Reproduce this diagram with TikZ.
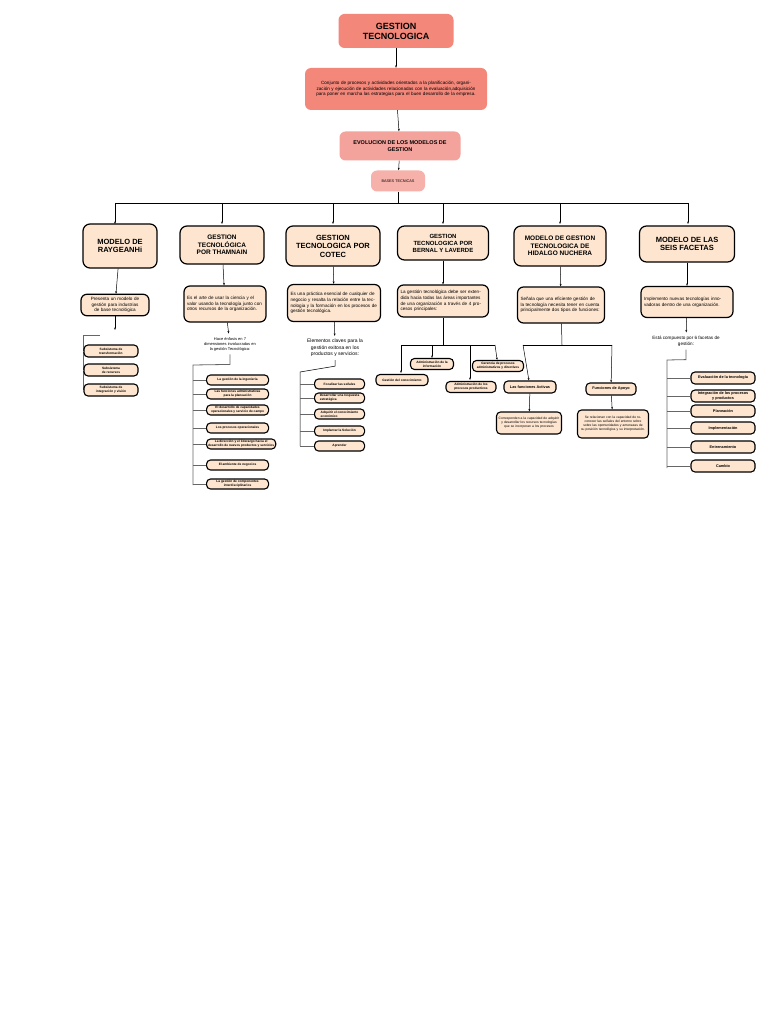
\documentclass[tikz,border=0pt]{standalone}
\usepackage{fontspec}
\setmainfont{Liberation Sans}
\usetikzlibrary{arrows.meta}
\definecolor{salmon}{HTML}{F2877A}
\definecolor{lsalmon}{HTML}{F4A39C}
\definecolor{peach}{HTML}{FDE5CF}
\tikzset{
 top/.style={fill=salmon,rounded corners=6pt,align=center,inner sep=2pt},
 model/.style={fill=peach,draw=black,line width=1.2pt,rounded corners=7pt,align=center,font=\fontsize{7.5}{8.5}\selectfont\bfseries,inner sep=2pt},
 desc/.style={fill=peach,draw=black,line width=1.2pt,rounded corners=6pt,align=left,font=\fontsize{4.6}{5.6}\selectfont,inner sep=3pt},
 sub/.style={fill=peach,draw=black,line width=1.1pt,rounded corners=4pt,align=center,font=\fontsize{3.2}{3.8}\selectfont\bfseries,inner sep=1.5pt},
 plain/.style={align=center,font=\fontsize{4.6}{5.8}\selectfont},
 ln/.style={line width=0.5pt},
 ar/.style={line width=0.5pt,-{Stealth[length=2.5pt]}},
 br/.style={line width=0.8pt,gray!80!black},
}
\begin{document}
\begin{tikzpicture}[x=1pt,y=-1pt]
\useasboundingbox[fill=white] (0,0) rectangle (768,1024);
% top
\node[top,minimum width=115,minimum height=34,font=\fontsize{9}{10}\selectfont\bfseries] (gt) at (396,31) {GESTION\\TECNOLOGICA};
\node[top,minimum width=182,minimum height=42,text width=176,font=\fontsize{4.6}{5.6}\selectfont] (def) at (396,89) {Conjunto de procesos y actividades orientados a la planificación, organización y ejecución de actividades relacionadas con la evaluación,adquisición para poner en marcha las estrategias para el buen desarrollo de la empresa.};
\node[top,fill=lsalmon,minimum width=121,minimum height=29,font=\fontsize{5.5}{6.5}\selectfont\bfseries] (evo) at (400,146) {EVOLUCION DE LOS MODELOS DE\\GESTION};
\node[top,fill=lsalmon!85!white,minimum width=54,minimum height=21,font=\fontsize{3.8}{4.5}\selectfont] (bt) at (398,181) {BASES TECNICAS};
\draw[ar] (gt) -- (def);
\draw[ar] (def) -- (evo);
\draw[ar] (evo) -- (bt);
% models
\node[model,minimum width=74,minimum height=44] (m1) at (120,246) {MODELO DE\\RAYGEANHi};
\node[model,minimum width=84,minimum height=38,font=\fontsize{6.5}{7.5}\selectfont\bfseries] (m2) at (222,245) {GESTION\\TECNOLÓGICA\\POR THAMNAIN};
\node[model,minimum width=94,minimum height=40] (m3) at (333,246) {GESTION\\TECNOLOGICA POR\\COTEC};
\node[model,minimum width=91,minimum height=34,font=\fontsize{6}{7}\selectfont\bfseries] (m4) at (443,243) {GESTION\\TECNOLOGICA POR\\BERNAL Y LAVERDE};
\node[model,minimum width=92,minimum height=40,font=\fontsize{6.5}{7.5}\selectfont\bfseries] (m5) at (560,246) {MODELO DE GESTION\\TECNOLOGICA DE\\HIDALGO NUCHERA};
\node[model,minimum width=95,minimum height=36] (m6) at (687,244) {MODELO DE LAS\\SEIS FACETAS};
\coordinate (h) at (398,203);
\draw[ln] (bt) -- (h);
\draw[ln] (115,203) -- (688,203);
\foreach \m/\x in {m1/115,m2/222,m3/333,m4/443,m5/560,m6/688}{\draw[ar] (\x,203) -- (\x,224);}
% descriptions
\node[desc,text width=62,align=center] (d1) at (115,305) {Presenta un modelo de gestión para industrias de base tecnológica};
\node[desc,text width=76,minimum height=36] (d2) at (225,304) {Es el arte de usar la ciencia y el valor usando la tecnología junto con otros recursos de la organización.};
\node[desc,text width=87,minimum height=37] (d3) at (334,303) {Es una práctica esencial de cualquier de negocio y resalta la relación entre la tecnologia y la formación en los procesos de gestión tecnológica.};
\node[desc,text width=85,minimum height=32] (d4) at (443,301) {La gestión tecnológica debe ser extendida hacia todas las áreas importantes de una organización a través de 4 procesos principales:};
\node[desc,text width=81,minimum height=36] (d5) at (561,305) {Señala que una eficiente gestión de la tecnología necesita tener en cuenta principalmente dos tipos de funciones:};
\node[desc,text width=86,minimum height=31] (d6) at (687,302) {Implemento nuevas tecnologías innovadoras dentro de una organización.};
\foreach \i in {1,...,6}{\draw[ar] (m\i) -- (d\i);}
% col1
\coordinate (c1) at (115,330);
\draw[ar] (d1) -- (c1);
\draw[br] (100,335) -- (83,335) -- (83,390);
\node[sub,minimum width=54,minimum height=12] (s11) at (111,351) {Subsistema de\\transformación};
\node[sub,minimum width=54,minimum height=12] (s12) at (111,370) {Subsistema\\de recursos};
\node[sub,minimum width=54,minimum height=12] (s13) at (111,390) {Subsistema de\\integración y visión};
\foreach \s in {s11,s12,s13}{\draw[br] (83,0|-\s) -- (\s.west);}
% col2
\node[plain,font=\fontsize{4}{5}\selectfont] (t2) at (230,344) {Hace énfasis en 7\\dimensiones involucradas en\\la gestión Tecnológica:};
\draw[ar] (d2) -- (t2);
\draw[br] (t2.south) -- ++(0,10) -- (193,365) -- (193,485);
\foreach \y/\n/\t in {380/a/La gestión de la ingeniería,394/b/Las funciones administrativas\\para la planeación,410/c/El desarrollo de capacidades\\operacionales y servicio de campo,428/d/Los procesos operacionales,444/e/La dirección y el liderazgo hacia el\\desarrollo de nuevos productos y servicios,465/f/El ambiente de negocios,484/g/La gestión de componentes\\interdisciplinarios}{
 \node[sub,minimum width=62,minimum height=10,anchor=west] (s2\n) at (206,\y) {\t};
 \draw[br] (193,\y) -- (s2\n.west);}
% col3
\node[plain,font=\fontsize{5}{6.3}\selectfont] (t3) at (335,348) {Elementos claves para la\\gestión exitosa en los\\productos y servicios:};
\draw[ar] (d3) -- (t3);
\draw[ln] (t3.south) -- ++(0,6) -- (300,372) -- (300,446);
\foreach \y/\n/\t in {384/a/Focalizar las señales,398/b/Desarrollar una respuesta\\estratégica,414/c/Adquirir el conocimiento\\económico,431/d/Implantar la Solución,446/e/Aprender}{
 \node[sub,minimum width=50,minimum height=10,anchor=west,align=left] (s3\n) at (314,\y) {\t};
 \draw[br] (300,\y) -- (s3\n.west);}
% col4
\coordinate (j4) at (443,345);
\draw[ln] (d4) -- (j4);
\draw[ln] (401,345) -- (495,345);
\node[sub,minimum width=52,minimum height=11] (s4a) at (402,380) {Gestión del conocimiento};
\node[sub,minimum width=43,minimum height=11] (s4b) at (432,364) {Administración de la\\información};
\node[sub,minimum width=50,minimum height=11] (s4c) at (471,387) {Administración de los\\procesos productivos};
\node[sub,minimum width=51,minimum height=11] (s4d) at (498,366) {Gerencia de procesos\\administrativos y directivos};
\draw[ar] (401,345) -- (401,373);
\draw[ar] (432,345) -- (s4b);
\draw[ar] (470,345) -- (470,380);
\draw[ar] (495,345) -- (s4d);
% col5
\coordinate (j5) at (562,345);
\draw[ln] (d5) -- (j5);
\draw[ln] (523,345) -- (612,345);
\node[sub,minimum width=52,minimum height=12,font=\fontsize{3.8}{4.5}\selectfont\bfseries] (s5a) at (530,387) {Las funciones Activas};
\node[sub,minimum width=50,minimum height=12,font=\fontsize{3.8}{4.5}\selectfont\bfseries] (s5b) at (611,389) {Funciones de Apoyo};
\draw[ar] (523,345) -- (s5a);
\draw[ar] (612,345) -- (s5b);
\node[sub,text width=62,minimum height=22,font=\fontsize{3.3}{4}\selectfont] (e5a) at (529,423) {Corresponden a la capacidad de adquirir y desarrollar los recursos tecnologías que se incorporan a los procesos};
\node[sub,text width=68,minimum height=28,font=\fontsize{3.3}{4}\selectfont] (e5b) at (613,424) {Se relacionan con la capacidad de reconocer las señales del entorno sobre sobre las oportunidades y amenazas de su posición tecnológica y su interpretación.};
\draw[ar] (s5a) -- (e5a);
\draw[ar] (s5b) -- (e5b);
% col6
\node[plain] (t6) at (686,341) {Está compuesto por 6 facetas de\\gestión:};
\draw[ar] (d6) -- (t6);
\draw[br] (t6.south) -- ++(0,10) -- (667,360) -- (667,468);
\foreach \y/\n/\t in {378/a/Evaluación de la tecnología,396/b/Integración de los procesos\\y productos,411/c/Planeación,428/d/Implementación,447/e/Entrenamiento,466/f/Cambio}{
 \node[sub,minimum width=64,minimum height=12,font=\fontsize{3.8}{4.5}\selectfont\bfseries] (s6\n) at (723,\y) {\t};
 \draw[br] (667,\y) -- (s6\n.west);}
\end{tikzpicture}
\end{document}
